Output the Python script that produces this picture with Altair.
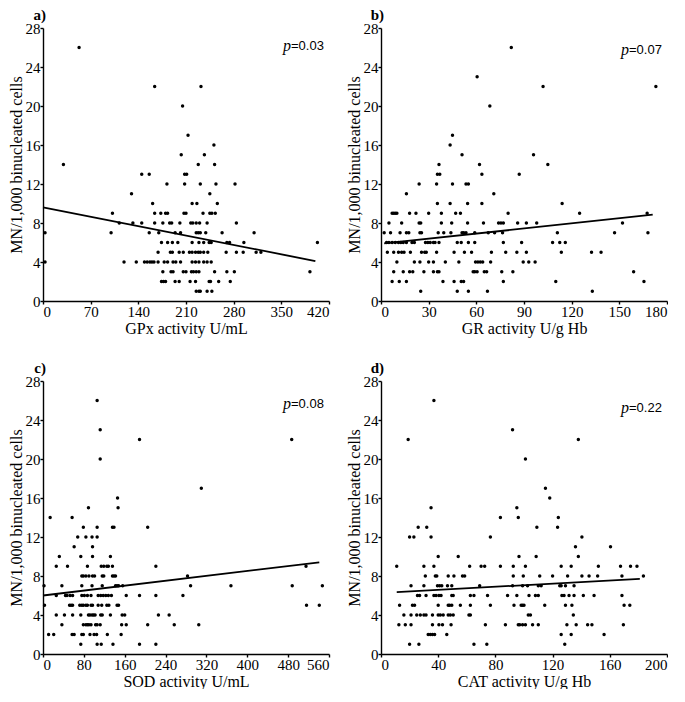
import altair as alt
import pandas as pd

# MN/1,000 binucleated cells (key) -> enzyme activity of each subject
gpx_pts = {
    26: [53],
    22: [164, 232],
    20: [205],
    17: [213],
    16: [251],
    15: [203, 237],
    14: [30, 228, 252],
    13: [145, 156, 208, 211],
    12: [182, 208, 231, 254, 282],
    11: [130, 245],
    10: [161, 219, 226, 256],
    9: [102, 164, 173, 180, 183, 207, 210, 235, 245, 248, 253],
    8: [112, 132, 145, 164, 176, 186, 189, 201, 217, 220, 225, 230, 241, 284],
    7: [3, 100, 156, 170, 194, 202, 225, 228, 231, 239, 263, 310],
    6: [174, 183, 190, 198, 219, 229, 236, 244, 247, 270, 274, 295, 403],
    5: [169, 187, 190, 200, 206, 215, 219, 224, 228, 231, 236, 242, 269, 284, 294, 313, 320],
    4: [3, 119, 137, 149, 153, 157, 160, 163, 169, 178, 183, 191, 195, 202, 219, 224, 229, 236, 241, 247],
    3: [176, 188, 191, 206, 210, 218, 221, 225, 229, 252, 270, 281, 392],
    2: [174, 177, 180, 194, 200, 216, 224, 244, 246, 258, 275],
    1: [225, 229, 231, 241, 248],
}
gr_pts = {
    26: [82],
    23: [60.5],
    22: [102, 173],
    20: [68.5],
    17: [45],
    16: [43.5],
    15: [51, 96],
    14: [36.5, 62, 105],
    13: [35.5, 37, 63.5, 87],
    12: [24, 35, 45, 53.5, 55],
    11: [16, 71],
    10: [35.5, 43.5, 54.5, 63.5, 114],
    9: [7, 8, 9, 10, 18, 22, 30, 38, 47, 50, 80, 125, 167.5],
    8: [5, 13, 24, 25, 38, 44.5, 54.5, 64.5, 74, 75.5, 77, 86, 91.5, 98, 152],
    7: [2, 6, 12, 16, 17.5, 24.5, 25.5, 36, 39.5, 44, 51, 52, 53.5, 59, 67.5, 71.5, 76.5, 111, 147, 168],
    6: [3.5, 5, 7, 9, 11, 12.5, 14, 16, 19.5, 21, 28, 29.5, 31, 33, 34, 36.5, 48, 50.5, 55, 59, 77, 88.5,
        108, 112.5, 116],
    5: [4, 8, 11, 13, 14.5, 18.5, 25.5, 27.5, 28.5, 35, 46, 52.5, 57, 69.5, 78.5, 85.5, 91.5, 113.5, 132.5, 138.5],
    4: [10, 21, 24.5, 30, 33, 40.5, 49, 59.5, 61, 62.5, 64, 69, 89.5, 93, 97],
    3: [8, 14, 18, 20, 27, 33, 35.5, 36.5, 58, 59, 60.5, 65, 66.5, 76, 83, 159],
    2: [7, 11.5, 16, 39, 46, 50.5, 52, 77, 110, 165.5],
    1: [25, 48, 55, 67, 133],
}
sod_pts = {
    26: [106],
    23: [112],
    22: [189, 487],
    20: [112],
    17: [310],
    16: [146],
    15: [89, 147],
    14: [14, 57],
    13: [79, 106, 136, 139, 205],
    12: [68, 84, 96, 106],
    11: [61, 97],
    10: [32, 74, 97, 132],
    9: [26, 48, 87, 114, 119, 125, 128, 136, 221, 515],
    8: [76, 79, 84, 90, 97, 101, 116, 119, 136, 139, 142, 283],
    7: [2, 37, 76, 96, 116, 142, 145, 148, 156, 289, 368, 488, 547],
    6: [26, 44, 47, 53, 58, 76, 81, 87, 94, 108, 113, 118, 123, 128, 134, 163, 189, 221, 274],
    5: [3, 52, 55, 58, 72, 76, 79, 84, 87, 94, 97, 108, 115, 125, 129, 145, 148, 516, 541],
    4: [26, 42, 58, 74, 89, 92, 96, 99, 102, 113, 116, 132, 155, 160, 226, 247],
    3: [37, 79, 84, 87, 90, 94, 103, 106, 112, 154, 163, 205, 257, 305],
    2: [11, 21, 57, 61, 76, 79, 92, 100, 105, 126, 153],
    1: [74, 106, 114, 137, 189, 221],
}
cat_pts = {
    26: [37],
    23: [92],
    22: [19, 138],
    20: [101],
    17: [115],
    16: [118],
    15: [35, 95],
    14: [83.5, 96, 124],
    13: [26, 32, 109, 123.5],
    12: [20, 23, 35, 76.5, 140.5],
    11: [136, 160.5],
    10: [40, 54, 96.5, 108.5, 138],
    9: [11, 30, 37, 62, 70, 72.5, 83.5, 92.5, 101, 126, 133, 152, 167.5, 174.5, 179],
    8: [31, 38, 39, 47, 51, 57, 58.5, 92.5, 99.5, 111, 120, 130.5, 140.5, 145.5, 151.5, 168.5, 183.5],
    7: [21, 30, 39.5, 41, 42.5, 46.5, 49.5, 69, 92, 99, 102.5, 110, 112, 125, 126, 129, 135],
    6: [25.5, 27, 31.5, 37, 38.5, 40.5, 42, 49.5, 50.5, 62.5, 65, 74.5, 88.5, 95, 103.5, 108, 110, 126.5,
        128, 131.5, 135, 141.5, 149, 168.5],
    5: [13, 22, 23.5, 40, 47, 48, 49.5, 55.5, 62.5, 76.5, 93, 98, 99, 100, 114.5, 129, 133.5, 170, 174],
    4: [16, 21, 25, 27.5, 30, 31.5, 36, 40, 41.5, 43.5, 47, 48.5, 50.5, 61.5, 62.5, 103, 104.5, 134.5],
    3: [12.5, 17, 21, 36, 40.5, 43, 49, 73, 87, 96, 97, 99, 101, 106, 110, 130, 136.5, 144.5, 147.5, 169.5],
    2: [33, 34.5, 36, 37.5, 46, 126, 133, 156],
    1: [20, 26.5, 65, 74, 128.5],
}

# fitted lines (start / end) as drawn
gpx_fit_x = [0, 400]
gpx_fit_y = [9.6, 4.1]
gr_fit_x = [2, 171]
gr_fit_y = [5.9, 8.85]
sod_fit_x = [0, 541]
sod_fit_y = [6.0, 9.4]
cat_fit_x = [11, 181]
cat_fit_y = [6.35, 7.7]

x_titles = ["GPx activity U/mL", "GR activity U/g Hb", "SOD activity U/mL", "CAT activity U/g Hb"]
x_ticks = [[0, 70, 140, 210, 280, 350, 420],
           [0, 30, 60, 90, 120, 150, 180],
           [0, 80, 160, 240, 320, 400, 480, 560],
           [0, 40, 80, 120, 160, 200]]
y_ticks = [0, 4, 8, 12, 16, 20, 24, 28]
p_values = ["0.03", "0.07", "0.08", "0.22"]
panel_tags = ["a)", "b)", "c)", "d)"]
y_title = "MN/1,000 binucleated cells"

W = 286
H = 273
SERIF = "Liberation Serif"


#one scatter panel: dots, fitted line, p value and tag
def make_panel(pts, fit_x, fit_y, ticks, xt, tag, pv, py):
    rows = [(a, mn) for mn, acts in pts.items() for a in acts]
    df = pd.DataFrame(rows, columns=["act", "mn"])
    xs = alt.X("act:Q", title=xt,
               scale=alt.Scale(domain=[ticks[0], ticks[-1]], nice=False),
               axis=alt.Axis(values=ticks, labelOverlap=False))
    ys = alt.Y("mn:Q", title=y_title,
               scale=alt.Scale(domain=[0, 28], nice=False),
               axis=alt.Axis(values=y_ticks, labelOverlap=False, tickCount=8))
    dots = alt.Chart(df).mark_circle(size=12, color="black", opacity=1).encode(x=xs, y=ys)
    fit = alt.Chart(pd.DataFrame({"act": fit_x, "mn": fit_y})).mark_line(
        color="black", strokeWidth=1.8).encode(x=xs, y=ys)
    lab = pd.DataFrame({"t": [tag], "p": ["p"], "v": ["=" + pv]})
    tg = alt.Chart(lab).mark_text(align="right", baseline="middle", font=SERIF,
                                  fontSize=15, fontWeight="bold", color="black").encode(
        text="t:N", x=alt.value(3), y=alt.value(-13))
    pp = alt.Chart(lab).mark_text(align="right", baseline="middle", font=SERIF,
                                  fontSize=16, fontStyle="italic", color="black").encode(
        text="p:N", x=alt.value(W - 38), y=alt.value(py))
    pvt = alt.Chart(lab).mark_text(align="left", baseline="middle", font="Liberation Sans",
                                   fontSize=13, color="black").encode(
        text="v:N", x=alt.value(W - 38), y=alt.value(py))
    return (dots + fit + tg + pp + pvt).properties(width=W, height=H)


pa = make_panel(gpx_pts, gpx_fit_x, gpx_fit_y, x_ticks[0], x_titles[0], panel_tags[0], p_values[0], 18)
pb = make_panel(gr_pts, gr_fit_x, gr_fit_y, x_ticks[1], x_titles[1], panel_tags[1], p_values[1], 22)
pc = make_panel(sod_pts, sod_fit_x, sod_fit_y, x_ticks[2], x_titles[2], panel_tags[2], p_values[2], 23)
pd_ = make_panel(cat_pts, cat_fit_x, cat_fit_y, x_ticks[3], x_titles[3], panel_tags[3], p_values[3], 27)

chart = alt.concat(pa, pb, pc, pd_, columns=2, spacing={"row": 80, "column": 52},
                   bounds="flush").properties(
    padding=0, background="white"
).configure_view(stroke=None).configure_axis(
    grid=False,
    domainColor="black", domainWidth=1.4,
    tickColor="black", tickWidth=1.4, tickSize=3,
    labelColor="black", labelFont=SERIF, labelFontSize=15, labelPadding=0,
    titleColor="black", titleFont=SERIF, titleFontSize=16, titleFontWeight="normal",
    titlePadding=1,
)

chart.save("out.html", embed_options={"renderer": "svg", "actions": False})
